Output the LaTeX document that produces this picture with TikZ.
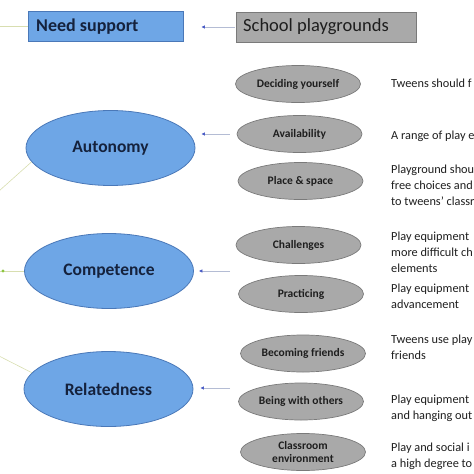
\documentclass[tikz,border=0pt]{standalone}
\usepackage{fontspec}
\setmainfont{Carlito}
\usetikzlibrary{shapes.geometric,arrows.meta}
\definecolor{bluefill}{HTML}{6EA6E6}
\definecolor{blueedge}{HTML}{4A78B8}
\definecolor{greyfill}{HTML}{A9A9A9}
\definecolor{greyedge}{HTML}{7A7A7A}
\definecolor{navy}{HTML}{15223D}
\definecolor{connline}{HTML}{B4BCD4}
\definecolor{conntip}{HTML}{4558C4}
\definecolor{leftline}{HTML}{D8DEB0}
\definecolor{dotgreen}{HTML}{8CC63F}
\definecolor{bodytext}{HTML}{1E1E1E}
\tikzset{
  headbox/.style={draw=#1, line width=0.8pt, minimum height=30pt, inner sep=0pt},
  bigell/.style={ellipse, draw=blueedge, fill=bluefill, line width=0.8pt, minimum width=169pt, minimum height=75pt, inner sep=0pt, text=navy, font=\fontsize{17.5}{20}\selectfont\bfseries},
  smallell/.style={ellipse, draw=greyedge, fill=greyfill, line width=0.7pt, minimum width=125pt, minimum height=37pt, inner sep=0pt, text=bodytext, align=center, font=\fontsize{11.5}{13}\selectfont\bfseries},
  desc/.style={anchor=west, align=left, inner sep=0pt, text=bodytext, font=\fontsize{12.3}{16}\selectfont},
  conn/.style={draw=connline, line width=0.6pt, -{Latex[length=3.5pt,width=3.5pt,color=conntip]}},
  lline/.style={draw=leftline, line width=0.6pt}
}
\begin{document}
\begin{tikzpicture}[x=1pt,y=-1pt]
\useasboundingbox (0,0) rectangle (474,474);
\clip (0,0) rectangle (474,474);
% header boxes
\node[headbox=blueedge, fill=bluefill, minimum width=155pt] (need) at (105.5,26.5) {};
\node[anchor=west, inner sep=0pt, text=navy, font=\fontsize{18}{20}\selectfont\bfseries] (needt) at (36,26.5) {Need support};
\node[headbox=greyedge, fill=greyfill, minimum width=180pt] (school) at (326,27) {};
\node[anchor=west, inner sep=0pt, text=bodytext, font=\fontsize{18.5}{20}\selectfont] (schoolt) at (243,27) {School playgrounds};
% big ellipses
\node[bigell] (auton) at (110.5,148) {Autonomy};
\node[bigell] (comp) at (109,271) {Competence};
\node[bigell] (rel) at (108.5,389) {Relatedness};
% small ellipses
\node[smallell] (decid) at (298,84) {Deciding yourself};
\node[smallell] (avail) at (299.5,134) {Availability};
\node[smallell] (place) at (300.5,181) {Place \& space};
\node[smallell] (chall) at (298.5,245) {Challenges};
\node[smallell] (pract) at (301,294) {Practicing};
\node[smallell] (friends) at (303,353.5) {Becoming friends};
\node[smallell] (others) at (301,401.5) {Being with others};
\node[smallell] (class) at (303,452) {Classroom\\environment};
% descriptions
\node[desc] (d1) at (391,83) {Tweens should f};
\node[desc] (d2) at (391,136) {A range of play e};
\node[desc] (d3) at (391,185) {Playground shou\\free choices and\\to tweens' classr};
\node[desc] (d4) at (391,252) {Play equipment\\more difficult ch\\elements};
\node[desc] (d5) at (391,296.5) {Play equipment\\advancement};
\node[desc] (d6) at (391,347) {Tweens use play\\friends};
\node[desc] (d7) at (391,408) {Play equipment\\and hanging out};
\node[desc] (d8) at (391,456) {Play and social i\\a high degree to};
% arrows from right to left
\draw[conn, shorten <=1pt, shorten >=18pt] (school.west) -- (school.west -| need.east);
\draw[conn, shorten <=7pt, shorten >=6pt] (avail.west) -- (avail.west -| auton.east);
\coordinate (c2) at (230,271);
\draw[conn, shorten >=5pt] (c2) -- (comp.east);
\coordinate (c3) at (230,388);
\draw[conn, shorten >=7pt] (c3) -- (c3 -| rel.east);
% left lines
\coordinate (l0) at (-1,26.5);
\coordinate (l1) at (-1,191);
\coordinate (l2) at (-1,271);
\coordinate (l3) at (-1,356);
\draw[lline] (l0) -- (need.west);
\draw[lline] (l1) -- (auton.190);
\draw[lline] (l2) -- (comp.west);
\draw[lline] (l3) -- (rel.168);
\fill[dotgreen] (3,271) circle (1.6pt);
\end{tikzpicture}
\end{document}
